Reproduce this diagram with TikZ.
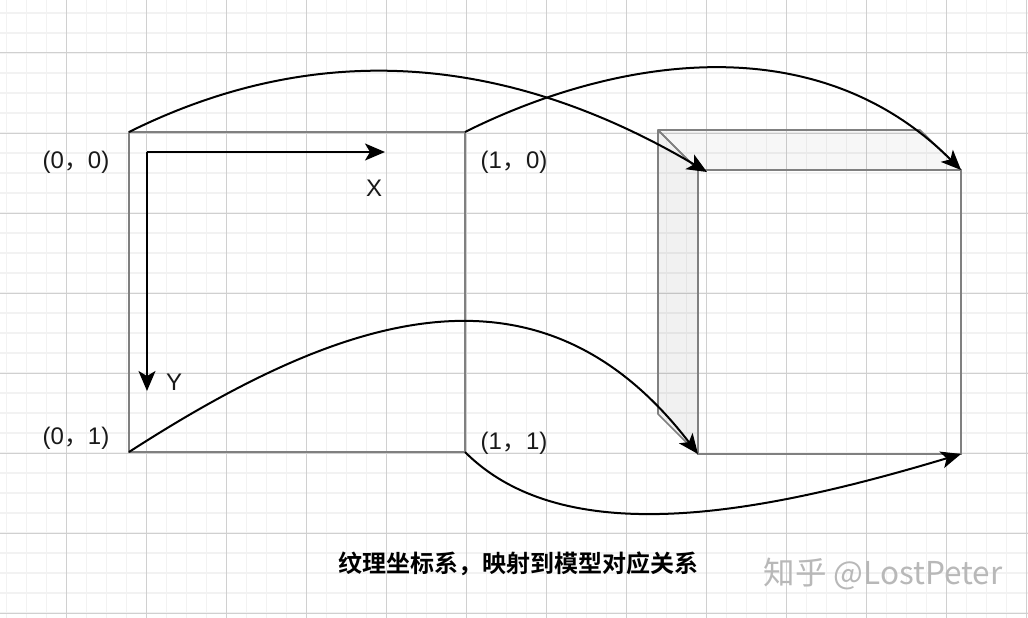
\documentclass[tikz,border=0pt]{standalone}
\usepackage{fontspec}
\setmainfont{Liberation Sans}
\newfontfamily\cjk{Noto Sans CJK SC}[BoldFont={* Bold}]
\usetikzlibrary{arrows.meta, positioning}
\definecolor{facegray}{HTML}{808080}
\definecolor{minorgrid}{HTML}{F2F2F2}
\definecolor{majorgrid}{HTML}{D0D0D0}

\begin{document}
\begin{tikzpicture}[x=1pt, y=-1pt, >={Stealth[length=20pt, width=17pt, inset=5pt]}]
    \tikzstyle{face} = [draw=facegray, line width=1.8pt, outer sep=0pt, inner sep=0pt]
    \tikzstyle{side} = [draw=facegray, line width=1.6pt, line join=round]
    \tikzstyle{link} = [->, black, line width=2pt]
    \tikzstyle{corner} = [font=\fontsize{24}{28}\selectfont, text=black!90, inner sep=0pt]
    \useasboundingbox (0,0) rectangle (1028,618);
    \fill[white] (0,0) rectangle (1028,618);
    % grid
    \foreach \x in {6.5,26.5,...,1026.5}
        \draw[minorgrid, line width=1.3pt] (\x,0) -- (\x,618);
    \foreach \y in {13,33,...,613}
        \draw[minorgrid, line width=1.3pt] (0,\y) -- (1028,\y);
    \foreach \x in {66.5,146.5,...,1026.5}
        \draw[majorgrid, line width=1pt] (\x,0) -- (\x,618);
    \foreach \y in {53,133,...,613}
        \draw[majorgrid, line width=1pt] (0,\y) -- (1028,\y);
    % faces
    \coordinate (backtl) at (658,130);
    \coordinate (backtr) at (920,130);
    \coordinate (backbl) at (658,414);
    \coordinate (fronttip) at (707,172);
    \node [face, minimum width=336pt, minimum height=320pt] at (297,292) (tex) {};
    \node [face, minimum width=263pt, minimum height=284pt] at (698+131.5,312) (front) {};
    \draw[side, fill=black, fill opacity=0.03] (backtl) -- (backtr) -- (front.north east) -- (front.north west) -- cycle;
    \draw[side, fill=black, fill opacity=0.055] (backtl) -- (front.north west) -- (front.south west) -- (backbl) -- cycle;
    % axes
    \coordinate (origin) at (147,152);
    \coordinate (xend) at (385,152);
    \coordinate (yend) at (147,391);
    \draw[link] (origin) -- (xend);
    \draw[link] (origin) -- (yend);
    \node [corner] at (76,162) (uv00) {(0{\cjk ，}0)};
    \node [corner] at (76,438) (uv01) {(0{\cjk ，}1)};
    \node [corner] at (514,162) (uv10) {(1{\cjk ，}0)};
    \node [corner] at (514,443) (uv11) {(1{\cjk ，}1)};
    \node [corner, below=28pt of xend, xshift=-11pt] (xlabel) {X};
    \node [corner, right=19pt of yend, yshift=9pt] (ylabel) {Y};
    % mapping
    \draw[link] (tex.north west) .. controls (290,52) and (480,38) .. (fronttip);
    \draw[link] (tex.north east) .. controls (605,62) and (811,20) .. (front.north east);
    \draw[link] (tex.south west) .. controls (340,316) and (538,246) .. (front.south west);
    \draw[link] (tex.south east) .. controls (565,552) and (761,514) .. (front.south east);
    \node [font=\cjk\bfseries\fontsize{24}{28}\selectfont, inner sep=0pt] at (518,564) (caption) {纹理坐标系，映射到模型对应关系};
    \node [font=\cjk\fontsize{31.5}{36}\selectfont, text=black!28, inner sep=0pt] at (883,574) (mark) {知乎 @LostPeter};
\end{tikzpicture}
\end{document}
